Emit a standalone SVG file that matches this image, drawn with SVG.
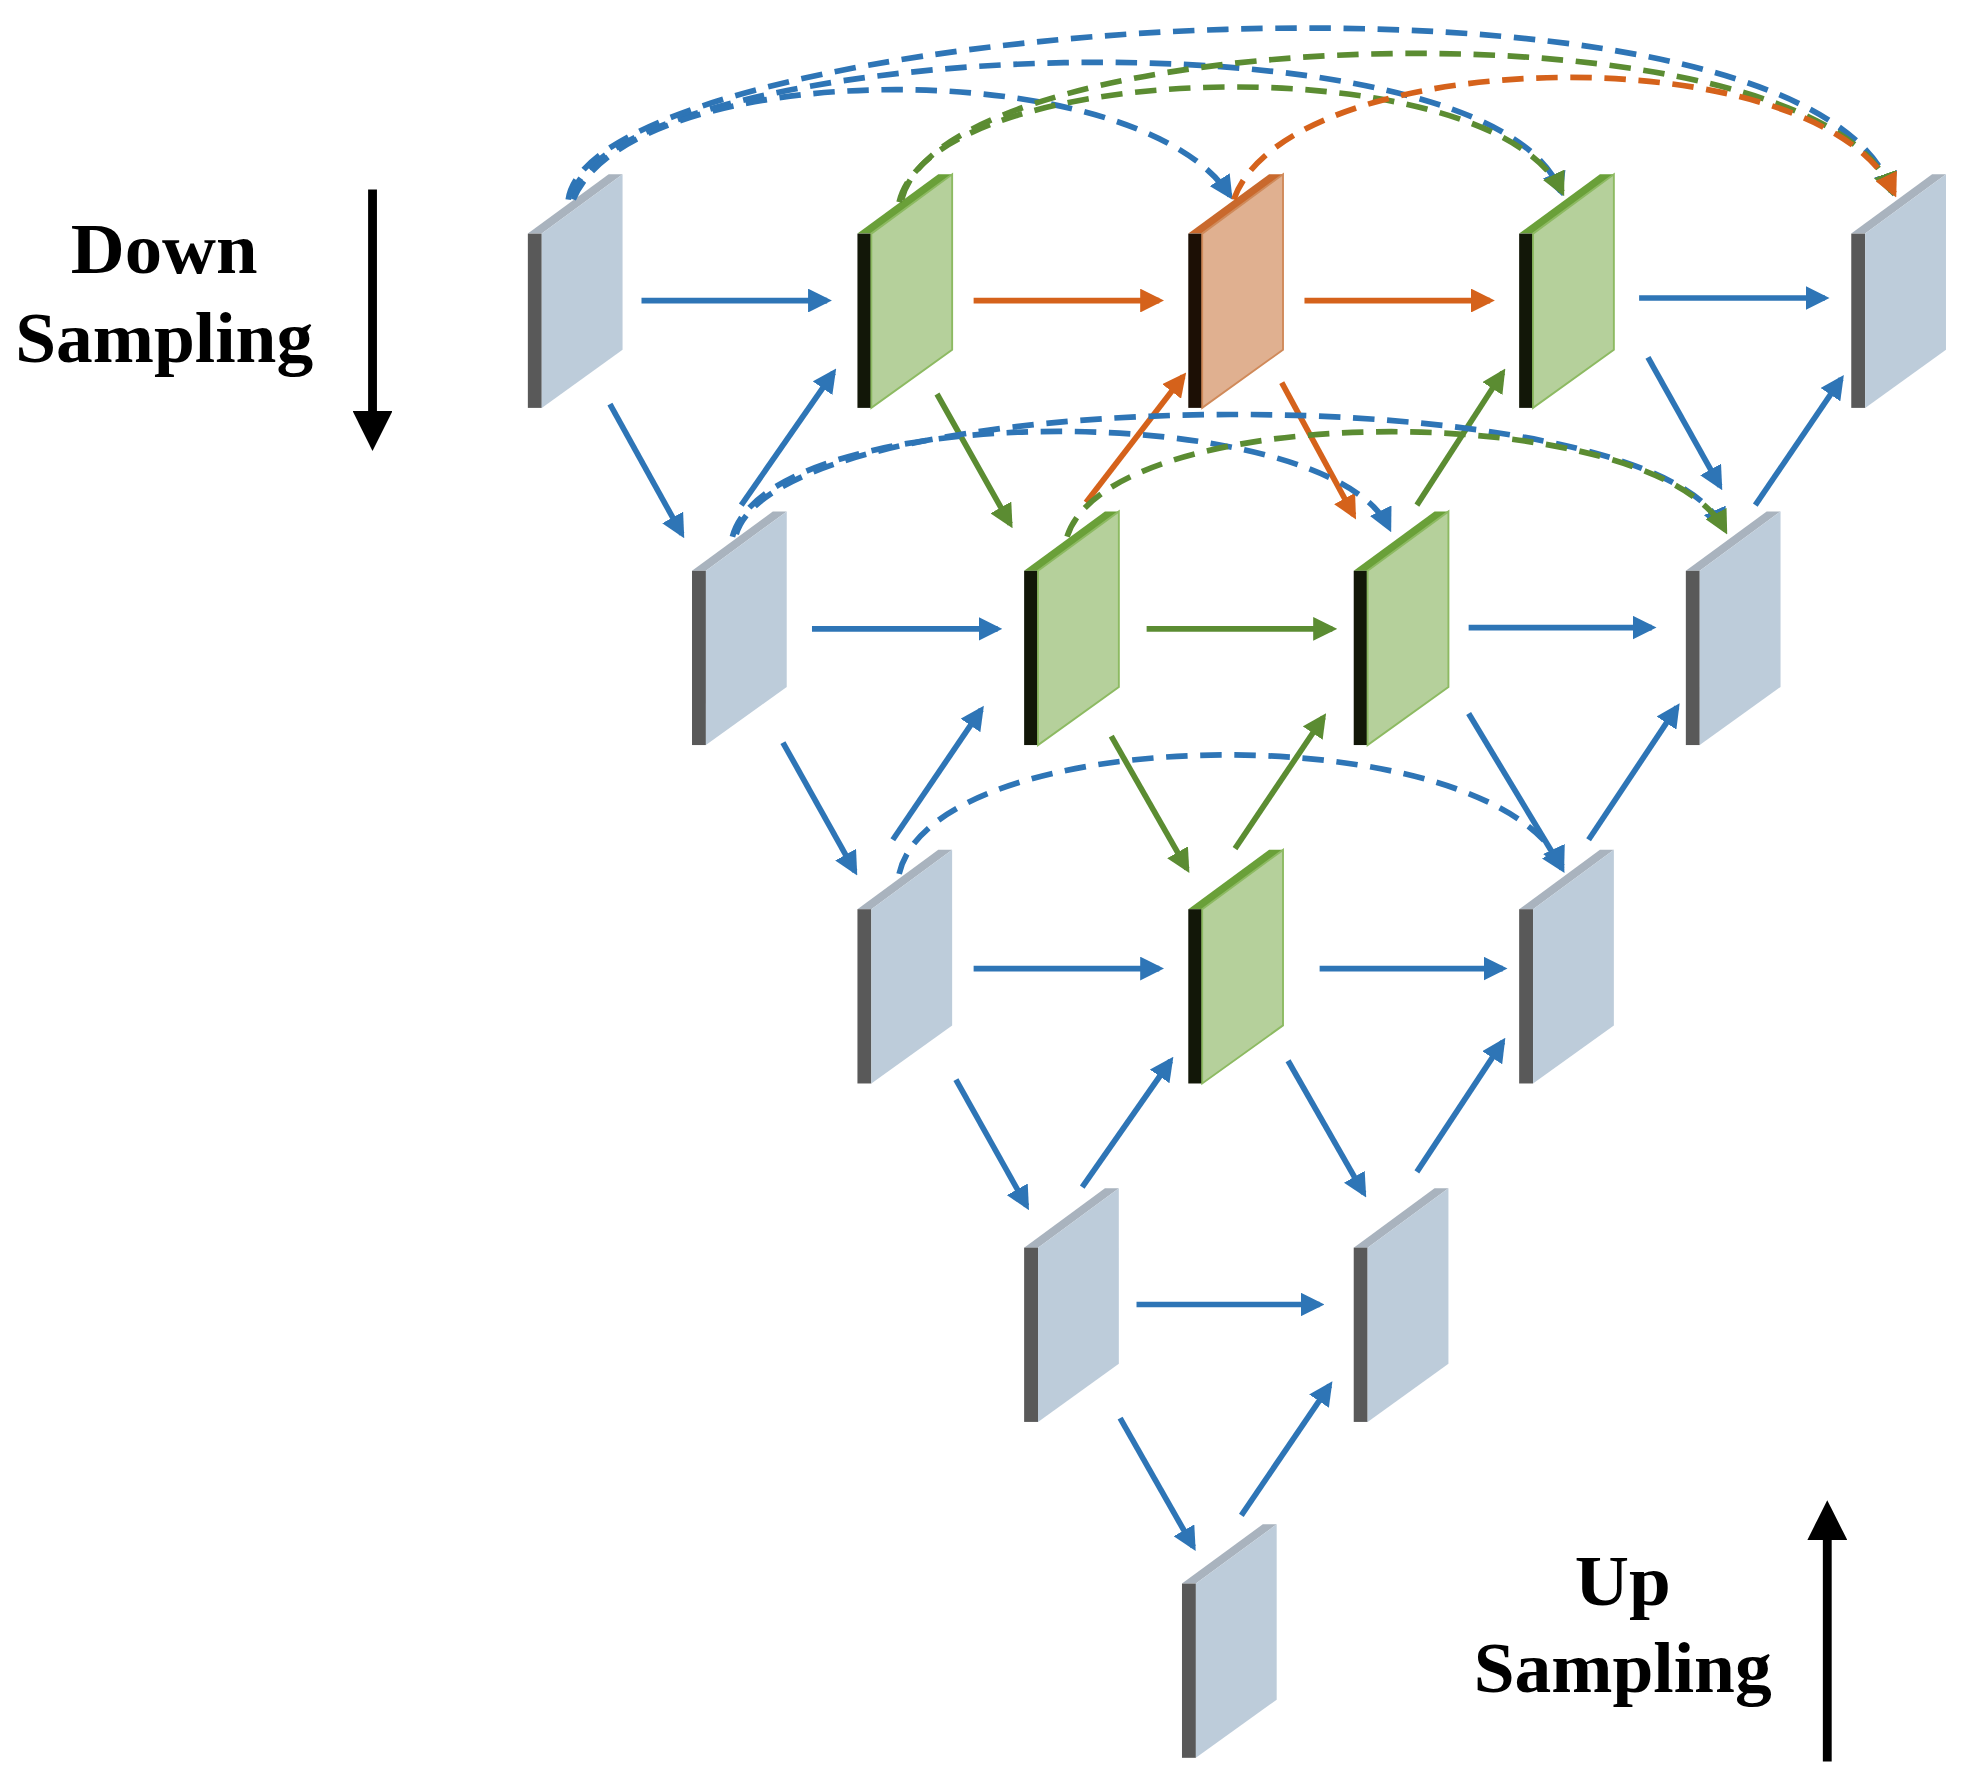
<svg xmlns="http://www.w3.org/2000/svg" width="1970" height="1784" viewBox="0 0 1970 1784">
<style>
.b{stroke:#2E75B6}.g{stroke:#5B8C32}.o{stroke:#D5621B}
.c{fill:none;stroke-width:4.5}
.d{stroke-dasharray:17 10}
.lbl{font-family:"Liberation Serif",serif;font-weight:bold;font-size:57px;fill:#000;text-anchor:middle}
</style>
<defs>
<marker id="mb" viewBox="0 0 10 10" refX="8" refY="5" markerWidth="4.2" markerHeight="4.2" orient="auto"><path d="M0,0L10,5L0,10z" fill="#2E75B6"/></marker>
<marker id="mg" viewBox="0 0 10 10" refX="8" refY="5" markerWidth="4.2" markerHeight="4.2" orient="auto"><path d="M0,0L10,5L0,10z" fill="#5B8C32"/></marker>
<marker id="mo" viewBox="0 0 10 10" refX="8" refY="5" markerWidth="4.2" markerHeight="4.2" orient="auto"><path d="M0,0L10,5L0,10z" fill="#D5621B"/></marker>
<marker id="mk" viewBox="0 0 10 10" refX="3" refY="5" markerWidth="4.5" markerHeight="4.5" orient="auto"><path d="M0,0L10,5L0,10z" fill="#000"/></marker>
<g id="nb"><polygon points="0,47 11,47 75,0 64,0" fill="#A9B3BE"/><rect x="0" y="47" width="11" height="138" fill="#595959"/><polygon points="11,47 75,0 75,139 11,185" fill="#BDCCDA"/></g>
<g id="ng"><polygon points="0,47 11,47 75,0 64,0" fill="#6AA039"/><rect x="0" y="47" width="11" height="138" fill="#121708"/><polygon points="11,47 75,0 75,139 11,185" fill="#B5D09B" stroke="#8DBA62" stroke-width="1.5"/></g>
<g id="no"><polygon points="0,47 11,47 75,0 64,0" fill="#C9692D"/><rect x="0" y="47" width="11" height="138" fill="#1C0F05"/><polygon points="11,47 75,0 75,139 11,185" fill="#E0B090" stroke="#D08A5A" stroke-width="1.5"/></g>
</defs>
<rect width="1970" height="1784" fill="#fff"/>
<g transform="scale(1.2628)">
<g id="labels">
<text class="lbl" x="130" y="216" textLength="148" lengthAdjust="spacingAndGlyphs">Down</text>
<text class="lbl" x="130" y="287" textLength="236" lengthAdjust="spacingAndGlyphs">Sampling</text>
<text class="lbl" x="1285" y="1271" textLength="76" lengthAdjust="spacingAndGlyphs">Up</text>
<text class="lbl" x="1285" y="1340" textLength="236" lengthAdjust="spacingAndGlyphs">Sampling</text>
<line x1="295" y1="150" x2="295" y2="335" stroke="#000" stroke-width="7" marker-end="url(#mk)"/>
<line x1="1447" y1="1395" x2="1447" y2="1210" stroke="#000" stroke-width="7" marker-end="url(#mk)"/>
</g>
<g id="nodes">
<use id="n11" href="#nb" x="418" y="138"/>
<use id="n12" href="#ng" x="679" y="138"/>
<use id="n13" href="#no" x="941" y="138"/>
<use id="n14" href="#ng" x="1203" y="138"/>
<use id="n15" href="#nb" x="1466" y="138"/>
<use id="n21" href="#nb" x="548" y="405"/>
<use id="n22" href="#ng" x="811" y="405"/>
<use id="n23" href="#ng" x="1072" y="405"/>
<use id="n24" href="#nb" x="1335" y="405"/>
<use id="n31" href="#nb" x="679" y="673"/>
<use id="n32" href="#ng" x="941" y="673"/>
<use id="n33" href="#nb" x="1203" y="673"/>
<use id="n41" href="#nb" x="811" y="941"/>
<use id="n42" href="#nb" x="1072" y="941"/>
<use id="n51" href="#nb" x="936" y="1207"/>
</g>
<g id="connectors">
<path class="c b" d="M508,238H655" marker-end="url(#mb)"/>
<path class="c o" d="M771,238H918" marker-end="url(#mo)"/>
<path class="c o" d="M1033,238H1180" marker-end="url(#mo)"/>
<path class="c b" d="M1298,236H1445" marker-end="url(#mb)"/>
<path class="c b" d="M643,498H790" marker-end="url(#mb)"/>
<path class="c g" d="M908,498H1055" marker-end="url(#mg)"/>
<path class="c b" d="M1163,497H1308" marker-end="url(#mb)"/>
<path class="c b" d="M771,767H918" marker-end="url(#mb)"/>
<path class="c b" d="M1045,767H1190" marker-end="url(#mb)"/>
<path class="c b" d="M900,1033H1045" marker-end="url(#mb)"/>
<path class="c b" d="M483,320L540,423" marker-end="url(#mb)"/>
<path class="c g" d="M742,312L800,415" marker-end="url(#mg)"/>
<path class="c o" d="M1015,303L1072,408" marker-end="url(#mo)"/>
<path class="c b" d="M1305,283L1362,385" marker-end="url(#mb)"/>
<path class="c b" d="M620,588L677,690" marker-end="url(#mb)"/>
<path class="c g" d="M880,583L940,688" marker-end="url(#mg)"/>
<path class="c b" d="M1163,565L1237,688" marker-end="url(#mb)"/>
<path class="c b" d="M757,855L813,955" marker-end="url(#mb)"/>
<path class="c b" d="M1020,840L1080,945" marker-end="url(#mb)"/>
<path class="c b" d="M887,1123L945,1225" marker-end="url(#mb)"/>
<path class="c b" d="M587,400L660,295" marker-end="url(#mb)"/>
<path class="c o" d="M860,398L937,298" marker-end="url(#mo)"/>
<path class="c g" d="M1122,400L1190,295" marker-end="url(#mg)"/>
<path class="c b" d="M1390,400L1458,300" marker-end="url(#mb)"/>
<path class="c b" d="M707,665L777,562" marker-end="url(#mb)"/>
<path class="c g" d="M978,672L1048,568" marker-end="url(#mg)"/>
<path class="c b" d="M1258,665L1328,560" marker-end="url(#mb)"/>
<path class="c b" d="M857,940L927,840" marker-end="url(#mb)"/>
<path class="c b" d="M1122,928L1190,825" marker-end="url(#mb)"/>
<path class="c b" d="M983,1200L1053,1097" marker-end="url(#mb)"/>
<path class="c b d" d="M450,158C470,15 1430,-55 1498,152" marker-end="url(#mb)"/>
<path class="c b d" d="M452,156C490,30 1180,0 1236,152" marker-end="url(#mb)"/>
<path class="c b d" d="M454,158C500,45 900,40 974,155" marker-end="url(#mb)"/>
<path class="c g d" d="M712,160C740,45 1180,35 1237,152" marker-end="url(#mg)"/>
<path class="c g d" d="M714,158C750,15 1440,-5 1498,152" marker-end="url(#mg)"/>
<path class="c o d" d="M977,158C1020,35 1440,25 1500,153" marker-end="url(#mo)"/>
<path class="c b d" d="M580,425C610,315 1050,315 1100,418" marker-end="url(#mb)"/>
<path class="c b d" d="M583,423C620,300 1310,295 1364,418" marker-end="url(#mb)"/>
<path class="c g d" d="M845,425C880,315 1310,315 1366,420" marker-end="url(#mg)"/>
<path class="c b d" d="M712,692C740,570 1180,565 1237,686" marker-end="url(#mb)"/>
</g>
</g>
</svg>
